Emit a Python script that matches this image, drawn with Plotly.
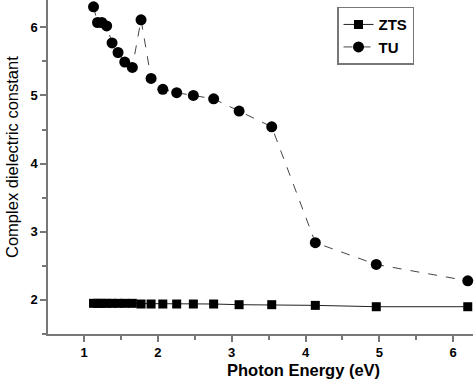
import plotly.graph_objects as go

energy = [1.127, 1.181, 1.240, 1.305, 1.378, 1.459, 1.550, 1.653, 1.771, 1.907,
          2.066, 2.254, 2.480, 2.755, 3.100, 3.542, 4.133, 4.959, 6.199]
tu = [6.30, 6.07, 6.07, 6.02, 5.77, 5.63, 5.49, 5.41, 6.11, 5.25,
      5.09, 5.04, 5.00, 4.95, 4.77, 4.54, 2.84, 2.52, 2.28]
zts = [1.95, 1.95, 1.95, 1.95, 1.95, 1.95, 1.95, 1.95, 1.94, 1.94,
       1.94, 1.94, 1.94, 1.94, 1.93, 1.93, 1.92, 1.90, 1.90]
x_ticks = [1, 2, 3, 4, 5, 6]
y_ticks = [2, 3, 4, 5, 6]

font = "Liberation Sans, Arial, sans-serif"

fig = go.Figure()
fig.add_trace(go.Scatter(x=energy, y=zts, name="ZTS", mode="lines+markers",
                         line=dict(color="#222222", width=1),
                         marker=dict(symbol="square", size=9, color="black"),
                         cliponaxis=False))
fig.add_trace(go.Scatter(x=energy, y=tu, name="TU", mode="lines+markers",
                         line=dict(color="#444444", width=1, dash="dash"),
                         marker=dict(symbol="circle", size=11, color="black"),
                         cliponaxis=False))

axis_common = dict(showline=True, linecolor="#777777", linewidth=1.5,
                   ticks="outside", ticklen=6, tickwidth=1.5, tickcolor="#777777",
                   showgrid=False, zeroline=False, automargin=False,
                   tickfont=dict(family=font, size=13, color="black", weight="bold"),
                   minor=dict(ticks="outside", ticklen=4, tickwidth=1.5,
                              tickcolor="#777777", dtick=0.5, showgrid=False))

fig.update_xaxes(range=[0.51, 6.27], tickvals=x_ticks, **axis_common)
fig.update_yaxes(range=[1.5, 6.4], tickvals=y_ticks, **axis_common)

fig.add_annotation(text="Complex dielectric constant", xref="paper", yref="paper",
                   x=0, y=0.53, xshift=-36, xanchor="center", yanchor="middle",
                   textangle=-90, showarrow=False,
                   font=dict(family=font, size=16.5, color="black"))
fig.add_annotation(text="Photon Energy (eV)", xref="paper", yref="paper",
                   x=0.6, y=0, yshift=-36, xanchor="center", yanchor="middle",
                   showarrow=False,
                   font=dict(family=font, size=16.5, color="black", weight="bold"))

fig.update_layout(width=474, height=379,
                  margin=dict(l=48, r=1, t=0, b=45),
                  plot_bgcolor="white", paper_bgcolor="white",
                  legend=dict(x=0.68, y=0.98, xanchor="left", yanchor="top",
                              bordercolor="#777777", borderwidth=1.5,
                              bgcolor="white",
                              font=dict(family=font, size=15, color="black", weight="bold"),
                              itemwidth=30, tracegroupgap=0))

fig.write_html("out.html", config={"displayModeBar": False},
               post_script="document.body.style.margin='0';document.body.style.padding='0';")
